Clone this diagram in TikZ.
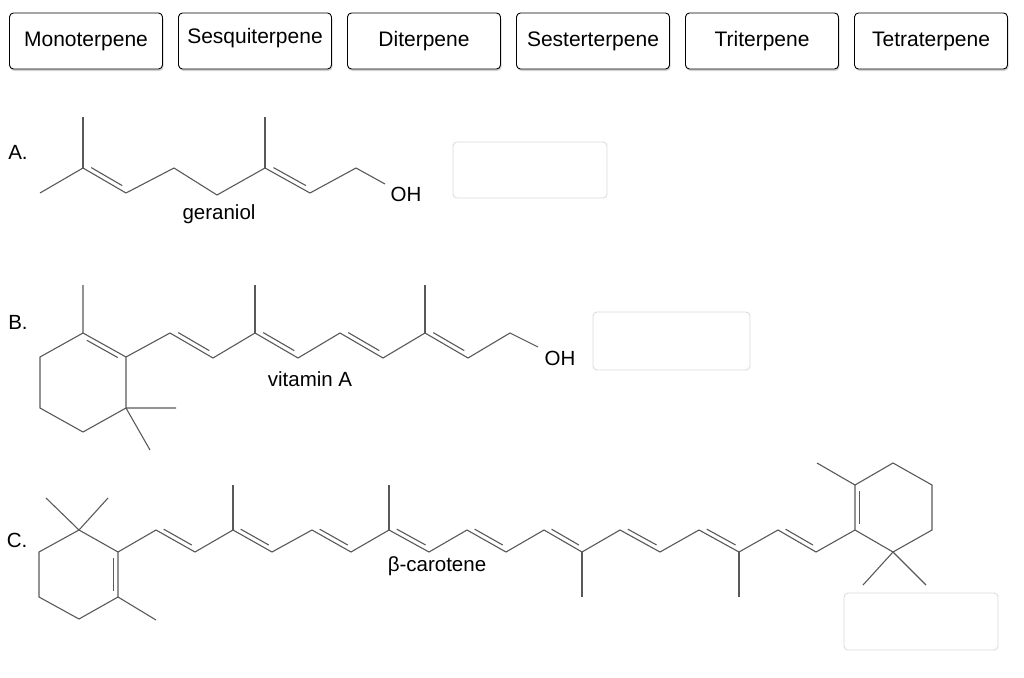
\documentclass[tikz,border=0pt]{standalone}
\usepackage{fontspec}
\setmainfont{Liberation Sans}
\usetikzlibrary{calc,shadows}
\tikzset{
 btn/.style={draw=black,line width=0.9pt,rounded corners=4pt,fill=white,minimum width=153pt,minimum height=56pt,text height=14pt,text depth=4pt,font=\fontsize{21}{24}\selectfont,drop shadow={shadow xshift=1pt,shadow yshift=-2pt,opacity=0.35}},
 ansbox/.style={draw=black!15,line width=0.8pt,rounded corners=4pt,fill=white},
 bond/.style={draw=black!65,line width=1.1pt},
 lbl/.style={font=\fontsize{20.5}{24}\selectfont,inner sep=0pt}
}
\newcommand{\dbl}[3]{\draw[bond] ($(#1)!0.14!(#2)!4.5pt!#3:(#2)$) -- ($(#1)!0.86!(#2)!4.5pt!-#3:(#1)$);}
\begin{document}
\begin{tikzpicture}[x=1pt,y=-1pt]
\useasboundingbox (0,0) rectangle (1024,677);
% buttons
\node[btn] (b1) at (86,41) {Monoterpene};
\node[btn] (b2) at (255,41) {\raisebox{2pt}{Sesquiterpene}};
\node[btn] (b3) at (424,41) {Diterpene};
\node[btn] (b4) at (593,41) {Sesterterpene};
\node[btn] (b5) at (762,41) {Triterpene};
\node[btn] (b6) at (931,41) {Tetraterpene};
% answer boxes
\draw[ansbox] (453,142) rectangle (607,198);
\draw[ansbox] (593,312) rectangle (750,370);
\draw[ansbox] (844,593) rectangle (998,650);
% labels
\node[lbl] (la) at (18,152) {A.};
\node[lbl] (lb) at (18,322) {B.};
\node[lbl] (lc) at (17,540) {C.};
% geraniol
\foreach \n/\x/\y in {g1/40/193,g2/83/168,gm1/83/117,g3/126/193,g4/174/168,g5/217/195,g6/265/168,gm2/265/117,g7/310/193,g8/356/168,g9/385/184}
  \coordinate (\n) at (\x,\y);
\draw[bond] (g1)--(g2)--(g3)--(g4)--(g5)--(g6)--(g7)--(g8)--(g9);
\draw[bond] (g2)--(gm1) (g6)--(gm2);
\dbl{g2}{g3}{90}\dbl{g6}{g7}{90}
\node[lbl] (oh1) at (406,194) {OH};
\node[lbl] (gl) at (219,214) {geraniol};
% vitamin A
\foreach \n/\x/\y in {r1/83/333,rm/83/285,r2/126/357,r3/126/408,rma/176/408,rmb/150/450,r4/83/432,r5/40/408,r6/40/357,
 v1/170/333,v2/213/358,v3/255/333,vm1/255/285,v4/298/358,v5/340/333,v6/383/358,v7/425/333,vm2/425/285,v8/468/358,v9/510/333,v10/538/347}
  \coordinate (\n) at (\x,\y);
\draw[bond] (r1)--(r2)--(r3)--(r4)--(r5)--(r6)--(r1);
\draw[bond] (r1)--(rm) (r3)--(rma) (r3)--(rmb);
\dbl{r1}{r2}{-90}
\draw[bond] (r2)--(v1)--(v2)--(v3)--(v4)--(v5)--(v6)--(v7)--(v8)--(v9)--(v10);
\draw[bond] (v3)--(vm1) (v7)--(vm2);
\dbl{v1}{v2}{90}\dbl{v3}{v4}{90}\dbl{v5}{v6}{90}\dbl{v7}{v8}{90}
\node[lbl] (oh2) at (560,358) {OH};
\node[lbl] (vl) at (310,379) {vitamin A};
% beta-carotene
\foreach \n/\x/\y in {c1/79/530,cm1/46/498,cm2/108/498,c2/118/552,c3/118/597,cm3/156/620,c4/79/619,c5/39/597,c6/39/552,
 k1/156/530,k2/195/552,k3/233/530,km1/233/485,k4/272/552,k5/312/530,k6/351/552,k7/389/530,km2/389/485,k8/429/552,k9/467/530,k10/506/552,
 k11/544/530,k12/582/552,km3/582/597,k13/620/530,k14/660/552,k15/699/530,k16/739/552,km4/739/597,k17/778/530,k18/816/552,
 s1/855/530,s2/855/485,sm1/817/463,s3/893/463,s4/932/485,s5/932/530,s6/893/552,sm2/863/585,sm3/926/585}
  \coordinate (\n) at (\x,\y);
\draw[bond] (c1)--(c2)--(c3)--(c4)--(c5)--(c6)--(c1);
\draw[bond] (c1)--(cm1) (c1)--(cm2) (c3)--(cm3);
\dbl{c2}{c3}{-90}
\draw[bond] (c2)--(k1)--(k2)--(k3)--(k4)--(k5)--(k6)--(k7)--(k8)--(k9)--(k10)--(k11)--(k12)--(k13)--(k14)--(k15)--(k16)--(k17)--(k18)--(s1);
\draw[bond] (k3)--(km1) (k7)--(km2) (k12)--(km3) (k16)--(km4);
\dbl{k1}{k2}{90}\dbl{k3}{k4}{90}\dbl{k5}{k6}{90}\dbl{k7}{k8}{90}\dbl{k9}{k10}{90}
\dbl{k11}{k12}{90}\dbl{k13}{k14}{90}\dbl{k15}{k16}{90}\dbl{k17}{k18}{90}
\draw[bond] (s1)--(s2)--(s3)--(s4)--(s5)--(s6)--(s1);
\draw[bond] (s2)--(sm1) (s6)--(sm2) (s6)--(sm3);
\dbl{s1}{s2}{-90}
\node[lbl] (cl) at (437,566) {β-carotene};
\end{tikzpicture}
\end{document}
